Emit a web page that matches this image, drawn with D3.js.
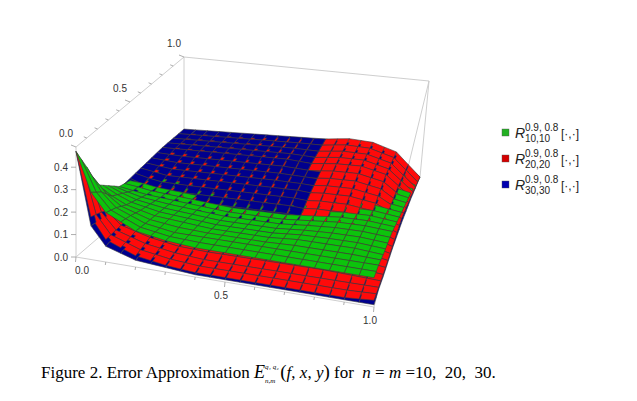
<!DOCTYPE html>
<html><head><meta charset="utf-8">
<script src="https://cdn.jsdelivr.net/npm/d3@7"></script>
<style>body{margin:0;background:#fff}svg{display:block}text{white-space:pre}</style>
</head><body>
<script>
// ---- data: surface heights, rows = y values, columns = x values ----
const xs = [0,0.05,0.1,0.2,0.3,0.4,0.5,0.6,0.7,0.8,0.9,1.0];
const ys = [0,0.1,0.2,0.4,0.6,0.8,1.0];
const green = [
 [.47,.30,.22,.16,.14,.13,.13,.13,.13,.13,.13,.13],
 [.36,.26,.20,.15,.13,.13,.13,.13,.13,.13,.13,.13],
 [.24,.20,.17,.14,.13,.12,.12,.12,.13,.13,.13,.12],
 [.15,.14,.13,.12,.11,.10,.10,.10,.11,.12,.12,.11],
 [.12,.12,.11,.10,.09,.08,.08,.08,.09,.10,.10,.08],
 [.10,.10,.09,.08,.07,.06,.06,.06,.07,.08,.08,.05],
 [.08,.08,.07,.06,.05,.05,.05,.05,.05,.06,.05,.00]];
const red = [
 [.47,.19,.10,.05,.03,.02,.02,.02,.02,.02,.02,.03],
 [.35,.17,.10,.06,.04,.03,.03,.03,.03,.03,.03,.03],
 [.23,.14,.10,.07,.05,.05,.05,.05,.05,.05,.04,.03],
 [.14,.11,.09,.08,.08,.08,.08,.08,.09,.09,.08,.04],
 [.13,.12,.11,.11,.11,.11,.11,.12,.13,.13,.11,.05],
 [.14,.14,.14,.14,.14,.14,.15,.15,.16,.16,.13,.03],
 [.14,.14,.14,.14,.14,.15,.15,.16,.17,.16,.12,.00]];
const blue = [
 [.47,.15,.07,.03,.02,.01,.01,.01,.01,.01,.01,.01],
 [.34,.14,.08,.04,.03,.02,.02,.02,.02,.02,.02,.02],
 [.22,.12,.08,.05,.04,.04,.04,.04,.04,.04,.03,.02],
 [.14,.11,.10,.09,.09,.09,.09,.09,.08,.08,.07,.03],
 [.15,.14,.13,.13,.13,.13,.13,.13,.12,.11,.09,.03],
 [.16,.16,.16,.16,.16,.16,.16,.15,.15,.14,.11,.02],
 [.16,.16,.16,.16,.16,.16,.16,.16,.15,.14,.10,.00]];
const series = [
 {name:"10,10", vals:green, fill:"#0cc40c", key:"#22b022"},
 {name:"20,20", vals:red, fill:"#ff0a0a", key:"#d40000"},
 {name:"30,30", vals:blue, fill:"#00008e", key:"#0000b0"}];
const xTicks = [0,0.5,1.0];
const yTicks = [0,0.5,1.0];
const zTicks = [0,0.1,0.2,0.3,0.4];

const W=637,H=401;
const svg=d3.select("body").append("svg").attr("width",W).attr("height",H);
const sx=d3.scaleLinear().domain([0,1]).range([0,1]);
const sy=d3.scaleLinear().domain([0,1]).range([0,1]);
const sz=d3.scaleLinear().domain([0,0.49]).range([0,1]);
const FL=[76,257],FR=[374,307],BL=[184,164],BR=[420,177];
const HF=110,HFR=110,HB=107,HBR=96;
function P(x,y,z){
  const u=sx(x),v=sy(y),w=sz(z);
  const a=(1-u)*(1-v),b=u*(1-v),c=(1-u)*v,d=u*v;
  const gx=a*FL[0]+b*FR[0]+c*BL[0]+d*BR[0];
  const gy=a*FL[1]+b*FR[1]+c*BL[1]+d*BR[1];
  const hs=a*HF+b*HFR+c*HB+d*HBR;
  return [gx,gy-w*hs];
}
const zmax=0.49;
// box (visible frame edges)
const box=svg.append("g").attr("stroke","#c8c8c8").attr("stroke-width",0.9).attr("fill","none");
const TBR=[429,81];
const seg=(p,q)=>box.append("path").attr("d",d3.line()([p,q]));
seg(P(0,0,0),P(0,0,zmax)); seg(P(0,0,0),P(1,0,0)); seg(P(0,0,zmax),P(0,1,zmax));
seg(P(0,1,zmax),TBR); seg(TBR,P(1,1,0)); seg(TBR,P(1,0,0));
seg(P(0,1,0),P(0,1,zmax)); seg(P(0,1,0),P(1,1,0)); seg(P(0,0,0),P(0,1,0));
// ticks
const tk=svg.append("g").attr("stroke","#999").attr("stroke-width",0.8);
const lab=svg.append("g").attr("font-family","Liberation Sans, Arial, sans-serif").attr("font-size",10).attr("fill","#333");
xTicks.forEach(t=>{const p=P(t,0,0);
  lab.append("text").attr("x",p[0]+(t==0?6:-4)).attr("y",p[1]+17).attr("text-anchor","middle").text(t.toFixed(1));});
d3.range(0,1.001,0.1).forEach(t=>{const p=P(t,0,0);const L=(Math.abs(t-0.5)<1e-6||t<1e-6||t>0.999)?5:3;
  tk.append("line").attr("x1",p[0]).attr("y1",p[1]).attr("x2",p[0]-0.5).attr("y2",p[1]+L);});
yTicks.forEach(t=>{const p=P(0,t,zmax);
  lab.append("text").attr("x",p[0]-10).attr("y",p[1]-10).attr("text-anchor","middle").text(t.toFixed(1));});
d3.range(0,1.001,0.1).forEach(t=>{const p=P(0,t,zmax);const L=(t<1e-6||Math.abs(t-0.5)<1e-6||t>0.999)?5:3;
  tk.append("line").attr("x1",p[0]).attr("y1",p[1]).attr("x2",p[0]-L).attr("y2",p[1]-L*0.4);});
zTicks.forEach(t=>{const p=P(0,0,t);tk.append("line").attr("x1",p[0]).attr("y1",p[1]).attr("x2",p[0]-5).attr("y2",p[1]);
  lab.append("text").attr("x",p[0]-8).attr("y",p[1]+3.5).attr("text-anchor","end").text(t.toFixed(1));});
// surfaces (painter's algorithm)
const quads=[];
series.forEach(s=>{
  const v=s.vals;
  for(let j=0;j<ys.length-1;j++)for(let i=0;i<xs.length-1;i++){
    const nu=Math.max(1,Math.round((xs[i+1]-xs[i])/0.05)), nv=Math.max(1,Math.round((ys[j+1]-ys[j])/0.05));
    for(let b=0;b<nv;b++)for(let a=0;a<nu;a++){
      const f=(aa,bb)=>{const z=(1-aa)*(1-bb)*v[j][i]+aa*(1-bb)*v[j][i+1]+aa*bb*v[j+1][i+1]+(1-aa)*bb*v[j+1][i];
        return [xs[i]+(xs[i+1]-xs[i])*aa, ys[j]+(ys[j+1]-ys[j])*bb, z];};
      const c=[f(a/nu,b/nv),f((a+1)/nu,b/nv),f((a+1)/nu,(b+1)/nv),f(a/nu,(b+1)/nv)];
      const cy=(c[0][1]+c[2][1])/2, cx=(c[0][0]+c[2][0])/2, zm=(c[0][2]+c[1][2]+c[2][2]+c[3][2])/4;
      quads.push({c,cy,cx,zm,fill:s.fill});
    }
  }});
quads.sort((a,b)=> (b.cy-a.cy) || (b.cx-a.cx) || (a.zm-b.zm));
const sg=svg.append("g");
quads.forEach(q=>{
  sg.append("path").attr("d",d3.line()(q.c.map(p=>P(...p)))+"Z").attr("fill",q.fill)
    .attr("stroke","#3c3c3c").attr("stroke-width",0.6).attr("stroke-linejoin","round");
});
// legend
const lg=svg.append("g").attr("font-family","Liberation Sans, Arial, sans-serif").attr("fill","#222");
series.forEach((s,k)=>{const y=133+k*26;
  lg.append("rect").attr("x",502).attr("y",y-4).attr("width",7).attr("height",7).attr("fill",s.key).attr("stroke","#555").attr("stroke-width",0.4);
  lg.append("text").attr("x",515).attr("y",y+5).attr("font-size",14).attr("font-style","italic").text("R");
  lg.append("text").attr("x",525).attr("y",y-2).attr("font-size",10).text("0.9, 0.8");
  lg.append("text").attr("x",525).attr("y",y+9).attr("font-size",10).text(s.name);
  lg.append("text").attr("x",561).attr("y",y+5).attr("font-size",12).text("[·,·]");
});
// caption
const cf="Liberation Serif, Times New Roman, serif";
const cg=svg.append("g").attr("font-family",cf).attr("fill","#000");
let cx=41; const cyb=378;
function put(txt,opt={}){
  const t=cg.append("text").attr("x",cx).attr("y",cyb+(opt.dy||0)).attr("font-size",opt.size||17)
    .attr("font-style",opt.it?"italic":"normal").text(txt);
  const w=t.node().getComputedTextLength(); if(!opt.noadv) cx+=w; return w;
}
put("Figure 2. Error Approximation ");
put("E",{it:true,size:18});
put("q\u2081 q\u2082",{it:true,size:7,dy:-9,noadv:true});
put("n,m",{it:true,size:7,dy:5});
cx+=5;
put("(",{size:19}); put("f",{it:true}); put(", "); put("x",{it:true}); put(", "); put("y",{it:true}); put(")",{size:19});
put(" for  "); put("n",{it:true}); put(" = "); put("m",{it:true}); put(" =10,  20,  30.");
</script>
</body></html>
